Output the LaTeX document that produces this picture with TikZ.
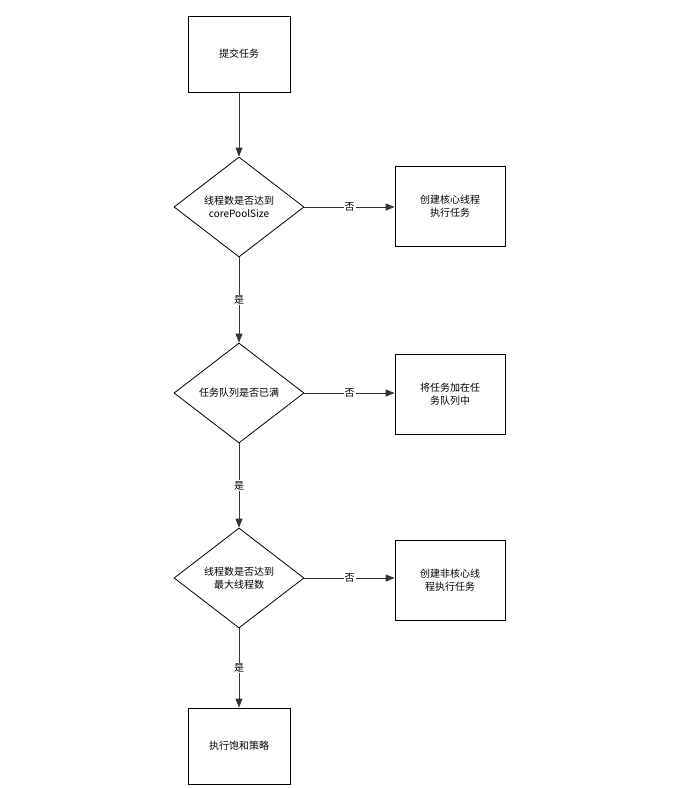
\documentclass[tikz,border=0pt]{standalone}
\usepackage{fontspec}
\setmainfont{Noto Sans CJK SC}
\usetikzlibrary{positioning,shapes.geometric,arrows.meta}
\tikzset{task/.style={rectangle, draw=black, thick, minimum width=102pt,
    minimum height=76pt, align=center, font=\fontsize{10}{13}\selectfont},
  side/.style={task, minimum width=110pt, minimum height=80pt},
  check/.style={diamond, draw=black, thick, minimum width=130pt,
    minimum height=100pt, inner sep=0pt, aspect=1.3, align=center,
    font=\fontsize{10}{13}\selectfont},
  myarrow/.style={-{Triangle[length=9pt,width=7pt]}, thick, draw=black!80},
  tag/.style={fill=white, inner sep=1pt, font=\fontsize{10}{12}\selectfont}
}
\begin{document}
\begin{tikzpicture}[x=1pt,y=-1pt]
\useasboundingbox (0,0) rectangle (673,788);

%main column
\node (submit) [task] at (239,54) {提交任务};
\node (core) [check] at (239,207) {线程数是否达到\\corePoolSize};
\node (queue) [check] at (239,393) {任务队列是否已满};
\node (max) [check] at (239,578) {线程数是否达到\\最大线程数};
\node (reject) [task] at (239,746) {执行饱和策略};

%right column
\node (newcore) [side] at (450,206) {创建核心线程\\执行任务};
\node (enqueue) [side] at (450,394) {将任务加在任\\务队列中};
\node (newmax) [side] at (450,580) {创建非核心线\\程执行任务};

\draw [myarrow] (submit) -- (core);
\draw [myarrow] (core) -- node[tag] {是} (queue);
\draw [myarrow] (queue) -- node[tag] {是} (max);
\draw [myarrow] (max) -- node[tag] {是} (reject);

\draw [myarrow] (core) -- node[tag] {否} (newcore.west |- core);
\draw [myarrow] (queue) -- node[tag] {否} (enqueue.west |- queue);
\draw [myarrow] (max) -- node[tag] {否} (newmax.west |- max);
\end{tikzpicture}
\end{document}
